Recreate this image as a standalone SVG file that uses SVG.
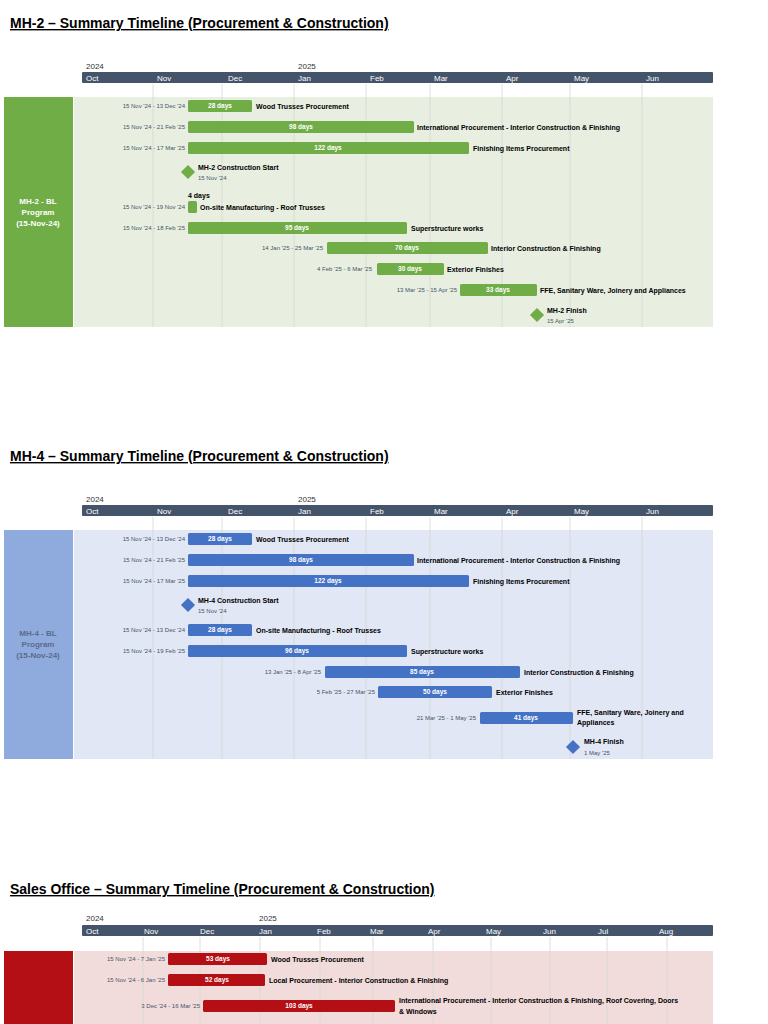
<svg xmlns="http://www.w3.org/2000/svg" width="768" height="1024" viewBox="0 0 768 1024">
<style>
text{font-family:"Liberation Sans",Arial,sans-serif}
.t{font-size:14px;font-weight:bold;text-decoration:underline;fill:#000}
.yr{font-size:8px;fill:#333}
.hb{fill:#44546a}
.mo{font-size:8px;fill:#fff}
.g{stroke:#d4d8d0;stroke-width:0.8}
.d{font-size:6px;fill:#44546a;text-anchor:end}
.bl{font-size:6.5px;font-weight:bold;fill:#fff;text-anchor:middle}
.l{font-size:7px;font-weight:bold;fill:#000}
.s{font-size:6px;fill:#44546a}
.gr{fill:#70ad47}.bu{fill:#4472c4}.re{fill:#b30f14}
.lt{font-size:8px;font-weight:bold;text-anchor:middle}
</style>
<rect width="768" height="1024" fill="#fff"/>

<!-- Section 1 -->
<g id="mh2">
<text class="t" x="10" y="28">MH-2 – Summary Timeline (Procurement &amp; Construction)</text>
<text class="yr" x="86" y="69">2024</text><text class="yr" x="298" y="69">2025</text>
<rect class="hb" x="82" y="72" width="631" height="11" rx="1"/>
<g class="mo"><text x="86" y="81">Oct</text><text x="157" y="81">Nov</text><text x="228" y="81">Dec</text><text x="298" y="81">Jan</text><text x="370" y="81">Feb</text><text x="434" y="81">Mar</text><text x="506" y="81">Apr</text><text x="574" y="81">May</text><text x="646" y="81">Jun</text></g>
<rect x="74" y="97" width="639" height="230" fill="#e8efe1"/>
<g class="g"><line x1="153" y1="84" x2="153" y2="327"/><line x1="222" y1="84" x2="222" y2="327"/><line x1="294" y1="84" x2="294" y2="327"/><line x1="366" y1="84" x2="366" y2="327"/><line x1="430" y1="84" x2="430" y2="327"/><line x1="502" y1="84" x2="502" y2="327"/><line x1="570" y1="84" x2="570" y2="327"/><line x1="642" y1="84" x2="642" y2="327"/></g>
<rect class="gr" x="4" y="97" width="69" height="230"/>
<text class="lt" fill="#fff" x="38" y="204">MH-2 - BL</text><text class="lt" fill="#fff" x="38" y="215">Program</text><text class="lt" fill="#fff" x="38" y="226">(15-Nov-24)</text>
</g>
<g id="mh2-rows">
<text class="d" x="185" y="108">15 Nov '24 - 13 Dec '24</text><rect class="gr" x="188" y="100" width="64" height="12" rx="1.5"/><text class="bl" x="220" y="108">28 days</text><text class="l" x="256" y="109">Wood Trusses Procurement</text>
<text class="d" x="185" y="129">15 Nov '24 - 21 Feb '25</text><rect class="gr" x="188" y="121" width="226" height="12" rx="1.5"/><text class="bl" x="301" y="129">98 days</text><text class="l" x="417" y="130">International Procurement - Interior Construction &amp; Finishing</text>
<text class="d" x="185" y="150">15 Nov '24 - 17 Mar '25</text><rect class="gr" x="188" y="142" width="281" height="12" rx="1.5"/><text class="bl" x="328" y="150">122 days</text><text class="l" x="473" y="151">Finishing Items Procurement</text>
<rect class="gr" x="183" y="167" width="10" height="10" transform="rotate(45 188 172)"/><text class="l" x="198" y="170">MH-2 Construction Start</text><text class="s" x="198" y="180">15 Nov '24</text>
<text class="l" x="188" y="198">4 days</text><text class="d" x="185" y="209">15 Nov '24 - 19 Nov '24</text><rect class="gr" x="188" y="201" width="9" height="12" rx="1.5"/><text class="l" x="200" y="210">On-site Manufacturing - Roof Trusses</text>
<text class="d" x="185" y="230">15 Nov '24 - 18 Feb '25</text><rect class="gr" x="188" y="222" width="219" height="12" rx="1.5"/><text class="bl" x="297" y="230">95 days</text><text class="l" x="411" y="231">Superstructure works</text>
<text class="d" x="323" y="250">14 Jan '25 - 25 Mar '25</text><rect class="gr" x="327" y="242" width="161" height="12" rx="1.5"/><text class="bl" x="407" y="250">70 days</text><text class="l" x="491" y="251">Interior Construction &amp; Finishing</text>
<text class="d" x="372" y="271">4 Feb '25 - 6 Mar '25</text><rect class="gr" x="377" y="263" width="67" height="12" rx="1.5"/><text class="bl" x="410" y="271">30 days</text><text class="l" x="447" y="272">Exterior Finishes</text>
<text class="d" x="457" y="292">13 Mar '25 - 15 Apr '25</text><rect class="gr" x="460" y="284" width="77" height="12" rx="1.5"/><text class="bl" x="498" y="292">33 days</text><text class="l" x="540" y="293">FFE, Sanitary Ware, Joinery and Appliances</text>
<rect class="gr" x="532" y="310" width="10" height="10" transform="rotate(45 537 315)"/><text class="l" x="547" y="313">MH-2 Finish</text><text class="s" x="547" y="323">15 Apr '25</text>
</g>

<!-- Section 2 -->
<g id="mh4">
<text class="t" x="10" y="461">MH-4 – Summary Timeline (Procurement &amp; Construction)</text>
<text class="yr" x="86" y="502">2024</text><text class="yr" x="298" y="502">2025</text>
<rect class="hb" x="82" y="505" width="631" height="11" rx="1"/>
<g class="mo"><text x="86" y="514">Oct</text><text x="157" y="514">Nov</text><text x="228" y="514">Dec</text><text x="298" y="514">Jan</text><text x="370" y="514">Feb</text><text x="434" y="514">Mar</text><text x="506" y="514">Apr</text><text x="574" y="514">May</text><text x="646" y="514">Jun</text></g>
<rect x="74" y="530" width="639" height="229" fill="#e2e7f5"/>
<g class="g"><line x1="153" y1="517" x2="153" y2="759"/><line x1="222" y1="517" x2="222" y2="759"/><line x1="294" y1="517" x2="294" y2="759"/><line x1="366" y1="517" x2="366" y2="759"/><line x1="430" y1="517" x2="430" y2="759"/><line x1="502" y1="517" x2="502" y2="759"/><line x1="570" y1="517" x2="570" y2="759"/><line x1="642" y1="517" x2="642" y2="759"/></g>
<rect x="4" y="530" width="69" height="229" fill="#8faadc"/>
<text class="lt" fill="#5a6b8c" x="38" y="636">MH-4 - BL</text><text class="lt" fill="#5a6b8c" x="38" y="647">Program</text><text class="lt" fill="#5a6b8c" x="38" y="658">(15-Nov-24)</text>
</g>
<g id="mh4-rows">
<text class="d" x="185" y="541">15 Nov '24 - 13 Dec '24</text><rect class="bu" x="188" y="533" width="64" height="12" rx="1.5"/><text class="bl" x="220" y="541">28 days</text><text class="l" x="256" y="542">Wood Trusses Procurement</text>
<text class="d" x="185" y="562">15 Nov '24 - 21 Feb '25</text><rect class="bu" x="188" y="554" width="226" height="12" rx="1.5"/><text class="bl" x="301" y="562">98 days</text><text class="l" x="417" y="563">International Procurement - Interior Construction &amp; Finishing</text>
<text class="d" x="185" y="583">15 Nov '24 - 17 Mar '25</text><rect class="bu" x="188" y="575" width="281" height="12" rx="1.5"/><text class="bl" x="328" y="583">122 days</text><text class="l" x="473" y="584">Finishing Items Procurement</text>
<rect class="bu" x="183" y="600" width="10" height="10" transform="rotate(45 188 605)"/><text class="l" x="198" y="603">MH-4 Construction Start</text><text class="s" x="198" y="613">15 Nov '24</text>
<text class="d" x="185" y="632">15 Nov '24 - 13 Dec '24</text><rect class="bu" x="188" y="624" width="64" height="12" rx="1.5"/><text class="bl" x="220" y="632">28 days</text><text class="l" x="256" y="633">On-site Manufacturing - Roof Trusses</text>
<text class="d" x="185" y="653">15 Nov '24 - 19 Feb '25</text><rect class="bu" x="188" y="645" width="219" height="12" rx="1.5"/><text class="bl" x="297" y="653">96 days</text><text class="l" x="411" y="654">Superstructure works</text>
<text class="d" x="321" y="674">13 Jan '25 - 8 Apr '25</text><rect class="bu" x="325" y="666" width="195" height="12" rx="1.5"/><text class="bl" x="422" y="674">85 days</text><text class="l" x="524" y="675">Interior Construction &amp; Finishing</text>
<text class="d" x="375" y="694">5 Feb '25 - 27 Mar '25</text><rect class="bu" x="378" y="686" width="114" height="12" rx="1.5"/><text class="bl" x="435" y="694">50 days</text><text class="l" x="496" y="695">Exterior Finishes</text>
<text class="d" x="476" y="720">21 Mar '25 - 1 May '25</text><rect class="bu" x="480" y="712" width="93" height="12" rx="1.5"/><text class="bl" x="526" y="720">41 days</text><text class="l" x="577" y="715">FFE, Sanitary Ware, Joinery and</text><text class="l" x="577" y="725">Appliances</text>
<rect class="bu" x="568" y="742" width="10" height="10" transform="rotate(45 573 747)"/><text class="l" x="584" y="744">MH-4 Finish</text><text class="s" x="584" y="755">1 May '25</text>
</g>

<!-- Section 3 -->
<g id="sales">
<text class="t" x="10" y="894">Sales Office – Summary Timeline (Procurement &amp; Construction)</text>
<text class="yr" x="86" y="921">2024</text><text class="yr" x="259" y="921">2025</text>
<rect class="hb" x="82" y="925" width="631" height="11" rx="1"/>
<g class="mo"><text x="86" y="934">Oct</text><text x="144" y="934">Nov</text><text x="200" y="934">Dec</text><text x="259" y="934">Jan</text><text x="317" y="934">Feb</text><text x="370" y="934">Mar</text><text x="428" y="934">Apr</text><text x="486" y="934">May</text><text x="543" y="934">Jun</text><text x="598" y="934">Jul</text><text x="659" y="934">Aug</text></g>
<rect x="74" y="951" width="639" height="73" fill="#f2dcdb"/>
<g class="g"><line x1="143" y1="937" x2="143" y2="1024"/><line x1="200" y1="937" x2="200" y2="1024"/><line x1="260" y1="937" x2="260" y2="1024"/><line x1="320" y1="937" x2="320" y2="1024"/><line x1="373" y1="937" x2="373" y2="1024"/><line x1="433" y1="937" x2="433" y2="1024"/><line x1="491" y1="937" x2="491" y2="1024"/><line x1="550" y1="937" x2="550" y2="1024"/><line x1="607" y1="937" x2="607" y2="1024"/><line x1="667" y1="937" x2="667" y2="1024"/></g>
<rect class="re" x="4" y="951" width="69" height="73"/>
</g>
<g id="sales-rows">
<text class="d" x="165" y="961">15 Nov '24 - 7 Jan '25</text><rect class="re" x="168" y="953" width="99" height="12" rx="1.5"/><text class="bl" x="218" y="961">53 days</text><text class="l" x="271" y="962">Wood Trusses Procurement</text>
<text class="d" x="165" y="982">15 Nov '24 - 6 Jan '25</text><rect class="re" x="168" y="974" width="97" height="12" rx="1.5"/><text class="bl" x="217" y="982">52 days</text><text class="l" x="269" y="983">Local Procurement - Interior Construction &amp; Finishing</text>
<text class="d" x="200" y="1008">3 Dec '24 - 16 Mar '25</text><rect class="re" x="203" y="1000" width="192" height="12" rx="1.5"/><text class="bl" x="299" y="1008">103 days</text><text class="l" x="399" y="1003">International Procurement - Interior Construction &amp; Finishing, Roof Covering, Doors</text><text class="l" x="399" y="1014">&amp; Windows</text>
</g>
<g id="connectors"/>
</svg>
